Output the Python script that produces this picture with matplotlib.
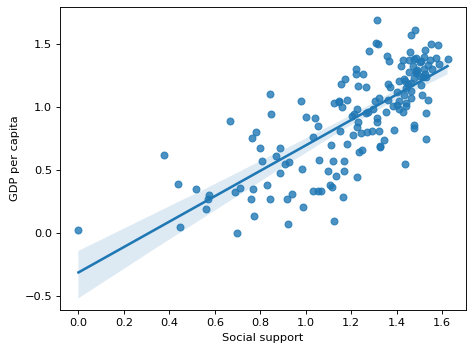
import numpy as np
import pandas as pd
import seaborn as sns
from matplotlib import pyplot as plt

# World Happiness 2019: social support vs GDP per capita
social_support = [
    1.587, 1.573, 1.582, 1.624, 1.522, 1.526, 1.487, 1.557, 1.505, 1.475,
    1.548, 1.441, 1.455, 1.479, 1.538, 1.553, 1.454, 1.504, 1.457, 1.487,
    1.310, 1.520, 1.323, 1.472, 1.430, 1.369, 1.269, 1.357, 1.313, 1.484,
    1.442, 1.439, 1.465, 1.463, 1.242, 1.488, 1.368, 1.504, 1.477, 1.438,
    1.529, 1.515, 1.410, 1.523, 1.325, 1.232, 1.432, 1.232, 1.223, 1.312,
    1.319, 1.409, 1.465, 1.219, 1.528, 1.478, 1.402, 1.419, 1.236, 1.508,
    1.209, 1.410, 1.475, 1.252, 1.274, 1.431, 0.886, 1.452, 1.293, 1.383,
    1.328, 1.303, 1.361, 1.098, 1.266, 1.277, 1.401, 1.212, 1.360, 1.171,
    1.465, 1.156, 1.531, 1.294, 1.111, 1.438, 1.538, 1.160, 0.782, 1.147,
    1.224, 1.203, 1.125, 1.346, 1.321, 0.910, 1.513, 0.868, 0.808, 1.226,
    1.225, 0.437, 0.799, 1.183, 1.030, 1.351, 0.848, 1.427, 1.122, 1.247,
    1.134, 0.698, 1.313, 0.774, 1.056, 1.055, 0.842, 0.829, 0.666, 0.939,
    0.983, 1.167, 0.986, 1.000, 0.928, 0.980, 1.125, 1.105, 0.841, 1.265,
    1.181, 0.766, 1.390, 1.033, 1.149, 1.069, 1.039, 1.058, 0.572, 0.765,
    0.922, 0.757, 0.916, 1.169, 0.447, 1.114, 0.688, 1.145, 0.378, 0.560,
    1.163, 0.711, 0.885, 0.517, 0.000, 0.575,
]
gdp_per_capita = [
    1.340, 1.383, 1.488, 1.380, 1.396, 1.452, 1.387, 1.303, 1.365, 1.376,
    1.372, 1.034, 1.276, 1.609, 1.333, 1.499, 1.373, 1.356, 1.433, 1.269,
    1.503, 1.300, 1.070, 1.324, 1.368, 1.159, 0.800, 1.403, 1.684, 1.286,
    1.149, 1.004, 1.124, 1.572, 0.794, 1.294, 1.362, 1.246, 1.231, 1.206,
    0.745, 1.238, 0.985, 1.258, 0.694, 0.882, 1.092, 1.162, 1.263, 0.912,
    1.500, 1.050, 1.187, 1.301, 1.237, 0.831, 1.120, 1.327, 0.642, 1.173,
    0.776, 1.201, 0.855, 1.263, 0.960, 1.221, 0.677, 1.183, 0.807, 1.004,
    0.685, 1.044, 1.051, 0.493, 1.155, 1.438, 1.015, 0.945, 1.183, 1.221,
    1.067, 1.181, 0.948, 0.983, 0.696, 0.551, 1.052, 1.002, 0.801, 1.043,
    0.987, 0.931, 1.029, 0.741, 0.813, 0.549, 1.092, 0.611, 0.569, 0.446,
    0.837, 0.393, 0.673, 1.057, 0.764, 0.960, 0.947, 0.960, 0.574, 0.657,
    0.450, 0.000, 0.879, 0.138, 0.331, 0.850, 1.100, 0.380, 0.886, 0.308,
    0.512, 0.570, 0.204, 0.921, 0.562, 1.043, 0.094, 0.385, 0.268, 0.949,
    0.710, 0.350, 0.820, 0.336, 0.811, 0.332, 0.913, 0.578, 0.275, 0.755,
    0.073, 0.274, 0.274, 0.489, 0.046, 0.366, 0.323, 1.041, 0.619, 0.191,
    0.287, 0.359, 0.476, 0.350, 0.026, 0.306,
]

df = pd.DataFrame({"Social support": social_support,
                   "GDP per capita": gdp_per_capita})

dpi = 82
fig = plt.figure(figsize=(474 / dpi, 353 / dpi), dpi=dpi)
ax = fig.add_axes([60 / 474, 43 / 353, 406 / 474, 303 / 353])
sns.regplot(data=df, x="Social support", y="GDP per capita", ax=ax, seed=0)
ax.set_ylim(-0.607, 1.79)

fig.savefig("out.png", dpi=dpi)
